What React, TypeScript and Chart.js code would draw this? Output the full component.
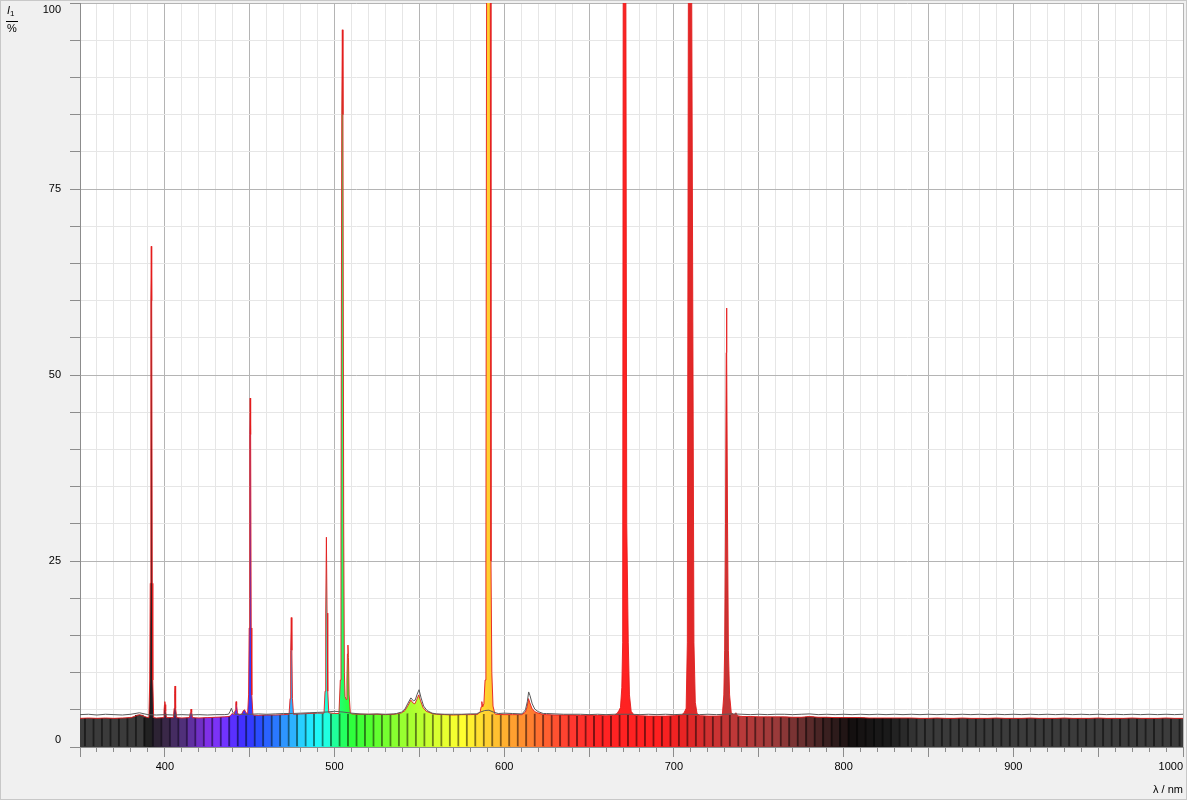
import React, { useEffect, useRef } from 'react';
import { Chart, registerables } from 'chart.js';

Chart.register(...registerables);

// ---------- data ----------
const X_MIN = 350;
const X_MAX = 1000;
const BASE_STEP = 5; // nm between baseline samples (350, 355, ... 1000)

// measured spectrum (red) baseline, % , one value every 5 nm from 350 to 1000 nm
const redBase = [
  3.85, 3.9, 3.85, 3.9, 3.85, 3.9, 3.95, 4.35, 3.95, 3.9,
  3.95, 3.95, 3.9, 3.95, 3.9, 3.95, 4.0, 4.05, 4.15, 4.2,
  4.25, 4.25, 4.3, 4.3, 4.35, 4.4, 4.45, 4.5, 4.55, 4.55,
  4.5, 4.5, 4.45, 4.4, 4.4, 4.4, 4.35, 4.4, 4.5, 4.55,
  4.6, 4.55, 4.4, 4.35, 4.3, 4.35, 4.35, 4.4, 4.45, 4.4,
  4.35, 4.35, 4.35, 4.4, 4.5, 4.35, 4.3, 4.3, 4.3, 4.25,
  4.25, 4.25, 4.2, 4.25, 4.3, 4.3, 4.2, 4.15, 4.15, 4.15,
  4.2, 4.3, 4.3, 4.2, 4.15, 4.15, 4.2, 4.3, 4.1, 4.1,
  4.05, 4.05, 4.05, 4.05, 4.0, 4.0, 4.1, 4.0, 4.0, 3.95,
  3.95, 3.95, 3.95, 3.9, 3.9, 3.9, 3.9, 3.9, 3.9, 3.85,
  3.85, 3.9, 3.85, 3.85, 3.9, 3.85, 3.85, 3.85, 3.9, 3.85,
  3.85, 3.85, 3.9, 3.85, 3.85, 3.85, 3.9, 3.85, 3.85, 3.85,
  3.9, 3.85, 3.85, 3.85, 3.9, 3.85, 3.85, 3.85, 3.9, 3.85,
  3.85,
];

// reference spectrum (grey) baseline, %, same wavelengths
const grayBase = [
  4.35, 4.4, 4.3, 4.4, 4.35, 4.3, 4.4, 4.6, 4.35, 4.3,
  4.35, 4.3, 4.35, 4.3, 4.35, 4.3, 4.35, 4.35, 4.4, 4.4,
  4.4, 4.45, 4.4, 4.45, 4.5, 4.5, 4.55, 4.6, 4.65, 4.7,
  4.8, 4.7, 4.55, 4.45, 4.4, 4.45, 4.4, 4.45, 4.6, 4.6,
  4.65, 4.6, 4.45, 4.4, 4.4, 4.4, 4.45, 4.5, 4.9, 4.6,
  4.55, 4.5, 4.45, 4.5, 4.7, 4.5, 4.45, 4.4, 4.4, 4.4,
  4.35, 4.4, 4.35, 4.4, 4.4, 4.4, 4.35, 4.4, 4.35, 4.4,
  4.35, 4.4, 4.4, 4.35, 4.4, 4.35, 4.4, 4.45, 4.4, 4.35,
  4.4, 4.35, 4.4, 4.4, 4.35, 4.4, 4.45, 4.35, 4.4, 4.35,
  4.4, 4.35, 4.4, 4.35, 4.4, 4.35, 4.4, 4.35, 4.4, 4.35,
  4.4, 4.35, 4.4, 4.35, 4.4, 4.35, 4.4, 4.35, 4.4, 4.35,
  4.4, 4.35, 4.4, 4.35, 4.4, 4.35, 4.4, 4.35, 4.4, 4.35,
  4.4, 4.35, 4.4, 4.35, 4.4, 4.35, 4.4, 4.35, 4.4, 4.35,
  4.4,
];

// emission lines of the measured spectrum: [wavelength nm, %]
const redPeaks: [number, number][][] = [
  [[390.6, 3.95], [391.1, 9], [391.4, 22], [391.75, 60], [392.0, 67.3], [392.25, 60], [392.6, 22], [392.9, 9], [393.4, 3.95]],
  [[399.0, 3.95], [399.5, 4.8], [399.8, 5.7], [400.0, 6.1], [400.2, 5.7], [400.5, 4.8], [401.0, 3.95]],
  [[405.0, 3.95], [405.5, 5.2], [405.8, 7.2], [406.0, 8.2], [406.2, 7.2], [406.5, 5.2], [407.0, 3.95]],
  [[414.5, 3.95], [415.0, 4.6], [415.3, 5.0], [415.5, 5.1], [415.8, 4.7], [416.3, 3.95]],
  [[438.0, 4.1], [439.0, 4.35], [439.8, 4.5], [440.8, 4.35], [441.4, 4.9], [441.8, 5.8], [442.0, 6.1], [442.3, 5.6], [442.8, 4.6], [443.6, 4.3],
   [445.2, 4.4], [446.3, 4.9], [447.0, 5.0], [447.8, 4.6], [448.8, 4.5], [449.35, 7], [449.7, 16], [450.05, 42], [450.3, 46.9],
   [450.55, 42], [450.9, 16], [451.25, 7], [451.9, 4.3]],
  [[473.2, 4.4], [473.8, 6.5], [474.15, 13], [474.5, 17.4], [474.85, 13], [475.2, 6.5], [475.8, 4.4]],
  [[493.8, 4.55], [494.4, 7.5], [494.8, 18], [495.2, 28.2], [495.6, 18], [496.0, 7.5], [496.6, 4.6]],
  [[502.6, 4.5], [503.4, 9], [503.8, 30], [504.25, 85], [504.6, 96.4], [504.95, 85], [505.4, 30], [505.8, 10], [506.2, 6.8],
   [506.8, 6.4], [507.3, 9], [507.6, 12.5], [507.9, 13.7], [508.2, 12], [508.6, 7], [509.3, 4.6], [510.2, 4.45]],
  [[536.5, 4.45], [539.5, 4.6], [541.5, 4.9], [543.3, 5.6], [545.0, 6.3], [546.3, 5.9], [547.3, 5.8], [548.5, 6.4],
   [549.6, 7.0], [550.7, 6.2], [552.2, 5.3], [554.0, 4.8], [557.5, 4.5]],
  [[584.5, 4.4], [585.8, 4.7], [586.4, 5.4], [586.8, 6.1], [587.3, 5.4], [588.0, 5.8], [588.7, 9], [589.2, 25],
   [589.6, 100], [590.7, 400], [591.8, 100], [592.2, 25], [592.7, 10], [593.4, 5.5], [594.5, 4.45]],
  [[610.5, 4.35], [612.5, 4.7], [613.5, 5.4], [614.3, 6.5], [615.0, 6.0], [616.3, 5.2], [618.0, 4.75], [620.0, 4.55], [622.5, 4.4]],
  [[664.5, 4.25], [666.5, 4.5], [667.6, 4.9], [668.5, 5.3], [669.3, 8], [669.8, 14], [670.1, 100], [670.9, 500],
   [671.7, 100], [672.2, 30], [673.1, 14], [673.8, 7], [674.8, 4.8], [676.5, 4.3]],
  [[704.5, 4.3], [706.0, 4.6], [706.6, 4.9], [707.2, 5.2], [707.9, 14], [708.5, 100], [709.5, 500], [710.5, 100],
   [711.8, 14], [712.6, 6], [713.6, 4.5], [715.5, 4.2]],
  [[728.5, 4.2], [729.4, 7], [729.9, 13], [730.4, 30], [730.8, 53], [731.0, 59], [731.2, 53], [731.6, 30], [732.1, 13],
   [732.8, 7], [733.8, 4.6], [735.5, 4.3], [736.5, 4.6], [737.5, 4.2]],
];

// features of the reference spectrum: [wavelength nm, %]
const grayPeaks: [number, number][][] = [
  [[437.5, 4.4], [438.5, 4.8], [439.2, 5.2], [440.0, 4.7], [441.2, 4.4]],
  [[536.5, 4.5], [539.5, 4.7], [541.5, 5.1], [543.3, 5.9], [545.0, 6.6], [546.5, 6.2], [547.5, 6.3], [548.7, 7.1],
   [549.8, 7.7], [551.0, 6.6], [552.5, 5.5], [554.5, 4.9], [557.5, 4.55]],
  [[583.5, 4.45], [586.0, 4.7], [588.5, 4.9], [591.0, 4.95], [593.5, 4.7], [596.5, 4.5]],
  [[610.5, 4.45], [612.5, 5.0], [613.6, 6.1], [614.4, 7.4], [615.2, 6.9], [616.5, 5.8], [618.0, 5.1], [620.0, 4.75], [623.0, 4.5]],
];

const xTickLabels = [400, 500, 600, 700, 800, 900, 1000];
const yTickLabels = [0, 25, 50, 75, 100];

// colour of light by wavelength (style)
const spectrumStops: [number, string][] = [
  [350, '#3c3c3c'], [386, '#3a3a3a'], [391, '#1c1c1c'], [394, '#2a2230'], [400, '#3a2848'], [410, '#50307a'],
  [418, '#6a30b8'], [425, '#8030e8'], [433, '#7a34ff'], [440, '#5a30ff'], [447, '#3a30ff'], [455, '#2a4cff'],
  [465, '#2a78ff'], [472, '#30a0ff'], [480, '#28d0ff'], [488, '#20f4ff'], [495, '#20ffe0'], [502, '#20ff80'],
  [508, '#28ff40'], [520, '#50ff30'], [535, '#88ff30'], [550, '#b8ff30'], [565, '#e8ff30'], [575, '#ffff30'],
  [585, '#ffe030'], [595, '#ffc030'], [605, '#ffa030'], [615, '#ff8030'], [625, '#ff6030'], [638, '#ff3a30'],
  [655, '#ff2424'], [690, '#ff2020'], [705, '#e82424'], [720, '#d03030'], [740, '#b83a3a'], [760, '#9a3a3a'],
  [775, '#6a3030'], [790, '#3a2020'], [805, '#141010'], [825, '#1a1a1a'], [845, '#3a3a3a'], [1000, '#3c3c3c'],
];

// ---------- helpers ----------
function hexToRgb(h: string): number[] {
  const n = parseInt(h.slice(1), 16);
  return [(n >> 16) & 255, (n >> 8) & 255, n & 255];
}
function colorAt(nm: number, k = 1): string {
  let i = 0;
  while (i < spectrumStops.length - 2 && nm > spectrumStops[i + 1][0]) i++;
  const [a, ca] = spectrumStops[i];
  const [b, cb] = spectrumStops[i + 1];
  const t = Math.max(0, Math.min(1, (nm - a) / (b - a)));
  const A = hexToRgb(ca), B = hexToRgb(cb);
  const c = A.map((v, j) => Math.round((v + (B[j] - v) * t) * k));
  return `rgb(${c[0]},${c[1]},${c[2]})`;
}
function buildSeries(base: number[], peaks: [number, number][][]) {
  const pts: { x: number; y: number }[] = [];
  base.forEach((v, i) => {
    const x = X_MIN + i * BASE_STEP;
    const inside = peaks.some((s) => x >= s[0][0] && x <= s[s.length - 1][0]);
    if (!inside) pts.push({ x, y: v });
  });
  peaks.forEach((s) => s.forEach(([x, y]) => pts.push({ x, y })));
  pts.sort((p, q) => p.x - q.x);
  return pts;
}
const noPad = (s: any) => {
  s.paddingLeft = 0;
  s.paddingRight = 0;
  s.paddingTop = 0;
  s.paddingBottom = 0;
};

const FONT = { family: "'Liberation Sans', Arial, sans-serif", size: 11 };

const plotBg = {
  id: 'plotBg',
  beforeDraw(chart: any) {
    const { ctx, chartArea: a } = chart;
    ctx.save();
    ctx.fillStyle = '#ffffff';
    ctx.fillRect(a.left, a.top, a.right - a.left, a.bottom - a.top);
    ctx.restore();
  },
};

export default function App() {
  const ref = useRef<HTMLCanvasElement>(null);

  useEffect(() => {
    if (!ref.current) return;
    const redPts = buildSeries(redBase, redPeaks);
    const grayPts = buildSeries(grayBase, grayPeaks);
    const barPts = redBase.map((v, i) => ({ x: X_MIN + i * BASE_STEP, y: v }));
    const barColors = barPts.map((p) => colorAt(p.x));
    const barBorders = barPts.map((p) => colorAt(p.x, 0.5));

    const gradient = (ctx: any) => {
      const chart = ctx.chart;
      if (!chart.chartArea) return 'rgba(0,0,0,0)';
      const xs = chart.scales.x;
      const x0 = xs.getPixelForValue(X_MIN);
      const x1 = xs.getPixelForValue(X_MAX);
      const g = chart.ctx.createLinearGradient(x0, 0, x1, 0);
      spectrumStops.forEach(([nm, c]) => g.addColorStop((nm - X_MIN) / (X_MAX - X_MIN), c));
      return g;
    };

    const chart = new Chart(ref.current, {
      type: 'line',
      data: {
        datasets: [
          {
            label: 'Referenz',
            data: grayPts,
            xAxisID: 'x',
            borderColor: '#5a5a5a',
            borderWidth: 1,
            pointRadius: 0,
            fill: false,
            order: 0,
          },
          {
            label: 'Spektrum',
            data: redPts,
            xAxisID: 'x',
            borderColor: 'rgba(228,28,28,0.9)',
            borderWidth: 1,
            pointRadius: 0,
            fill: false,
            order: 1,
          },
          {
            type: 'bar',
            label: 'Streifen',
            data: barPts,
            xAxisID: 'x',
            backgroundColor: barColors,
            borderColor: barBorders,
            borderWidth: { left: 2, right: 0, top: 0, bottom: 0 },
            borderSkipped: false,
            barPercentage: 1,
            categoryPercentage: 1,
            order: 2,
          } as any,
          {
            label: 'Fläche',
            data: redPts,
            xAxisID: 'x',
            borderWidth: 0,
            borderColor: 'rgba(0,0,0,0)',
            pointRadius: 0,
            fill: 'origin',
            backgroundColor: gradient,
            order: 3,
          },
        ],
      },
      options: {
        animation: false,
        responsive: false,
        devicePixelRatio: 1,
        layout: { padding: { top: 2, right: 3, left: 0, bottom: 0 } },
        plugins: { legend: { display: false }, tooltip: { enabled: false }, title: { display: false } },
        elements: { line: { tension: 0 } },
        scales: {
          x2: {
            type: 'linear',
            position: 'bottom',
            weight: 0,
            min: X_MIN,
            max: X_MAX,
            offset: false,
            afterFit: (s: any) => { s.height = 0; noPad(s); },
            ticks: { display: false, stepSize: 10, autoSkip: false },
            grid: { drawOnChartArea: false, drawTicks: true, tickLength: 5, tickColor: '#8c8c8c' },
            border: { display: false },
          },
          x: {
            type: 'linear',
            position: 'bottom',
            weight: 1,
            min: X_MIN,
            max: X_MAX,
            offset: false,
            afterFit: (s: any) => { s.height = 52; noPad(s); },
            ticks: {
              stepSize: 10,
              autoSkip: false,
              maxRotation: 0,
              padding: 3,
              color: '#000',
              font: FONT,
              callback: (v: any) => {
                if (!xTickLabels.includes(v)) return '';
                return v === X_MAX ? String(v) + '        ' : String(v);
              },
            },
            grid: {
              offset: false,
              color: (c: any) => (c.tick && c.tick.value % 50 === 0 ? '#b4b4b4' : '#e6e6e6'),
              tickLength: 10,
              tickColor: (c: any) => (c.tick && c.tick.value % 50 === 0 ? '#8c8c8c' : 'rgba(0,0,0,0)'),
            },
            border: { color: '#8c8c8c' },
            title: {
              display: true,
              text: 'λ / nm',
              align: 'end',
              color: '#000',
              font: FONT,
              padding: { top: 0, bottom: 2 },
            },
          },
          y: {
            type: 'linear',
            min: 0,
            max: 100,
            afterFit: (s: any) => { s.width = 79; noPad(s); },
            ticks: {
              stepSize: 5,
              autoSkip: false,
              padding: 9,
              color: '#000',
              font: FONT,
              callback: (v: any) => {
                if (!yTickLabels.includes(v)) return '';
                if (v === 100) return ['', '100'];
                if (v === 0) return ['0', ''];
                return String(v);
              },
            },
            grid: {
              color: (c: any) => (c.tick && c.tick.value % 25 === 0 ? '#b4b4b4' : '#e6e6e6'),
              tickLength: 10,
              tickColor: '#8c8c8c',
            },
            border: { color: '#8c8c8c' },
          },
        },
      } as any,
      plugins: [plotBg],
    });
    return () => chart.destroy();
  }, []);

  return (
    <div
      style={{
        position: 'absolute',
        left: 0,
        top: 0,
        width: 1187,
        height: 800,
        boxSizing: 'border-box',
        border: '1px solid #c8c8c8',
        background: '#f0f0f0',
        overflow: 'hidden',
      }}
    >
      <canvas ref={ref} width={1185} height={798} style={{ display: 'block', width: 1185, height: 798 }} />
      <div
        style={{
          position: 'absolute',
          left: 5,
          top: 3,
          fontFamily: "'Liberation Sans', Arial, sans-serif",
          fontSize: 11,
          lineHeight: '12px',
          color: '#000',
        }}
      >
        <div style={{ borderBottom: '1px solid #000', padding: '0 3px 1px 1px', display: 'inline-block' }}>
          <i>I</i>
          <sub style={{ fontSize: 8, verticalAlign: '-2px' }}>1</sub>
        </div>
        <div style={{ paddingLeft: 1 }}>%</div>
      </div>
    </div>
  );
}
